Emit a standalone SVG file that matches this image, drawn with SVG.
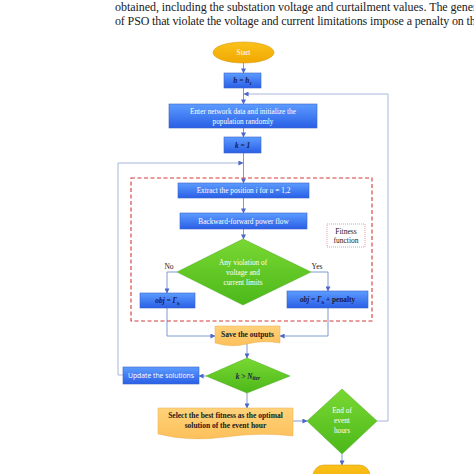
<svg xmlns="http://www.w3.org/2000/svg" width="474" height="474" viewBox="0 0 474 474">
<defs>
<linearGradient id="gBlue" x1="0" y1="0" x2="0" y2="1"><stop offset="0" stop-color="#5c9cff"/><stop offset="1" stop-color="#2a5fe6"/></linearGradient>
<linearGradient id="gGreen" x1="0" y1="0" x2="0" y2="1"><stop offset="0" stop-color="#79d832"/><stop offset="1" stop-color="#4cb81a"/></linearGradient>
<linearGradient id="gOrange" x1="0" y1="0" x2="0" y2="1"><stop offset="0" stop-color="#fbc21a"/><stop offset="1" stop-color="#f0a800"/></linearGradient>
<linearGradient id="gDoc" x1="0" y1="0" x2="0" y2="1"><stop offset="0" stop-color="#ffd27a"/><stop offset="1" stop-color="#fcc05a"/></linearGradient>
<marker id="arr" viewBox="0 0 6 6" refX="5.5" refY="3" markerWidth="5" markerHeight="5" orient="auto" markerUnits="userSpaceOnUse"><path d="M0,0 L6,3 L0,6 Z" fill="#4a68c8"/></marker>
</defs>
<style>
.para{font-family:"Liberation Serif","DejaVu Serif",serif;font-size:12px;fill:#1a1a1a}
.blue{fill:url(#gBlue);stroke:#3d62c8;stroke-width:0.6}
.green{fill:url(#gGreen);stroke:#4aa81c;stroke-width:0.5}
.doc{fill:url(#gDoc);stroke:#e8b050;stroke-width:0.5}
.wt{font-family:"Liberation Serif","DejaVu Serif",serif;font-size:7.3px;fill:#ffffff;text-anchor:middle}
.dk{font-family:"Liberation Serif","DejaVu Serif",serif;font-size:7.3px;fill:#1a1a40;text-anchor:middle;font-weight:bold}
.lab{font-family:"Liberation Serif","DejaVu Serif",serif;font-size:7.5px;fill:#1a1a1a;text-anchor:middle}
.sans{font-family:"Open Sans","DejaVu Sans",sans-serif;font-size:6.8px;fill:#ffffff;text-anchor:middle}
.con{fill:none;stroke:#6f8ed0;stroke-width:0.9}
.loop{fill:none;stroke:#a9b6dc;stroke-width:1}
</style>
<rect width="474" height="474" fill="#ffffff"/>
<text class="para" x="115" y="11" textLength="362" lengthAdjust="spacing">obtained, including the substation voltage and curtailment values. The gener</text>
<text class="para" x="115" y="25" textLength="366" lengthAdjust="spacing">of PSO that violate the voltage and current limitations impose a penalty on the</text>

<g id="connectors">
<line class="con" x1="243.5" y1="63" x2="243.5" y2="73" marker-end="url(#arr)"/>
<line class="con" x1="243.5" y1="88" x2="243.5" y2="104" marker-end="url(#arr)"/>
<line class="con" x1="243.5" y1="128" x2="243.5" y2="137" marker-end="url(#arr)"/>
<line class="con" x1="243.5" y1="153" x2="243.5" y2="183" marker-end="url(#arr)"/>
<line class="con" x1="243.5" y1="198" x2="243.5" y2="213" marker-end="url(#arr)"/>
<line class="con" x1="243.5" y1="229" x2="243.5" y2="239" marker-end="url(#arr)"/>
<polyline class="con" points="177,272 167,272 167,293" marker-end="url(#arr)"/>
<polyline class="con" points="311,272 328,272 328,291" marker-end="url(#arr)"/>
<polyline class="con" points="167,308 167,336 215,336" marker-end="url(#arr)"/>
<polyline class="con" points="328,308 328,336 280,336" marker-end="url(#arr)"/>
<line class="con" x1="247" y1="344" x2="247" y2="358" marker-end="url(#arr)"/>
<line class="con" x1="206" y1="376" x2="199" y2="376" marker-end="url(#arr)"/>
<line class="con" x1="247" y1="393" x2="247" y2="408" marker-end="url(#arr)"/>
<line class="con" x1="293" y1="421" x2="307" y2="421" marker-end="url(#arr)"/>
<line class="con" x1="342" y1="454" x2="342" y2="465" marker-end="url(#arr)"/>
<polyline class="loop" points="123,375 118,375 118,163 243,163" marker-end="url(#arr)"/>
<polyline class="loop" points="377,421 388,421 388,94 244,94" marker-end="url(#arr)"/>
</g>

<g id="fitness-region">
<rect x="131" y="178" width="241" height="143" fill="none" stroke="#d43a3a" stroke-width="1.1" stroke-dasharray="4,2.5"/>
</g>

<g id="start">
<ellipse cx="243.5" cy="52.5" rx="30.5" ry="10.5" fill="url(#gOrange)" stroke="#d89a10" stroke-width="0.6"/>
<text class="wt" x="243.5" y="55">Start</text>
</g>
<g id="h-init">
<rect class="blue" x="224" y="73" width="37" height="15"/>
<text class="dk" x="242.5" y="83" font-style="italic">h = h<tspan font-size="5" dy="1.5">1</tspan></text>
</g>
<g id="enter-data">
<rect class="blue" x="169" y="104" width="148" height="24"/>
<text class="wt" x="243" y="114">Enter network data and initialize the</text>
<text class="wt" x="243" y="123.5">population randomly</text>
</g>
<g id="k-init">
<rect class="blue" x="224" y="137" width="37" height="16"/>
<text class="dk" x="242.5" y="147.5" font-style="italic">k = 1</text>
</g>
<g id="extract">
<rect class="blue" x="178" y="183" width="131" height="15"/>
<text class="wt" x="243.5" y="193">Extract the position <tspan font-style="italic">i</tspan> for <tspan font-style="italic">u</tspan> = 1,2</text>
</g>
<g id="bfpf">
<rect class="blue" x="180" y="213" width="127" height="16"/>
<text class="wt" x="243.5" y="223.5">Backward-forward power flow</text>
</g>
<g id="fitness-label">
<rect x="327" y="224" width="38" height="23" fill="#ffffff" stroke="#e07080" stroke-width="0.7" stroke-dasharray="1,1"/>
<text class="lab" x="346" y="233.5">Fitness</text>
<text class="lab" x="346" y="242.5">function</text>
</g>
<g id="violation">
<polygon class="green" points="243,239 311,272 243,305 177,272"/>
<text class="wt" x="243" y="265">Any violation of</text>
<text class="wt" x="243" y="275">voltage and</text>
<text class="wt" x="243" y="285">current limits</text>
<text class="lab" x="169" y="269">No</text>
<text class="lab" x="317" y="269">Yes</text>
</g>
<g id="obj-no">
<rect class="blue" x="140" y="293" width="55" height="15"/>
<text class="dk" x="167.5" y="303" font-style="italic">obj = Γ<tspan font-size="5" dy="1.5">h</tspan></text>
</g>
<g id="obj-yes">
<rect class="blue" x="287" y="291" width="81" height="17"/>
<text class="dk" x="327.5" y="302" font-style="italic">obj = Γ<tspan font-size="5" dy="1.5">h</tspan><tspan dy="-1.5" font-style="normal"> + penalty</tspan></text>
</g>
<g id="save">
<path class="doc" d="M215,326 H280 V343 Q263,340 247,344 T215,343 Z"/>
<text class="lab" x="247.5" y="336.5" font-weight="bold" fill="#222">Save the outputs</text>
</g>
<g id="k-check">
<polygon class="green" points="247,358 290,376 247,393 206,376"/>
<text class="dk" x="248" y="378.5" font-style="italic" font-size="8">k &gt; N<tspan font-size="5.5" dy="1.5">iter</tspan></text>
</g>
<g id="update">
<rect class="blue" x="123" y="367" width="76" height="17"/>
<text class="sans" x="161" y="378">Update the solutions</text>
</g>
<g id="select">
<path class="doc" d="M158,408 H293 V436 Q260,432 225,437 T158,434 Z"/>
<text class="lab" x="225.5" y="418" font-weight="bold" fill="#222" font-size="7.2">Select the best fitness as the optimal</text>
<text class="lab" x="225.5" y="428" font-weight="bold" fill="#222" font-size="7.2">solution of the event hour</text>
</g>
<g id="end-check">
<polygon class="green" points="342,389 377,421 342,454 307,421"/>
<text class="wt" x="342" y="413">End of</text>
<text class="wt" x="342" y="423">event</text>
<text class="wt" x="342" y="433">hours</text>
</g>
<g id="end">
<rect x="313" y="465" width="57" height="26" rx="11" fill="url(#gOrange)" stroke="#d89a10" stroke-width="0.6"/>
</g>
</svg>
